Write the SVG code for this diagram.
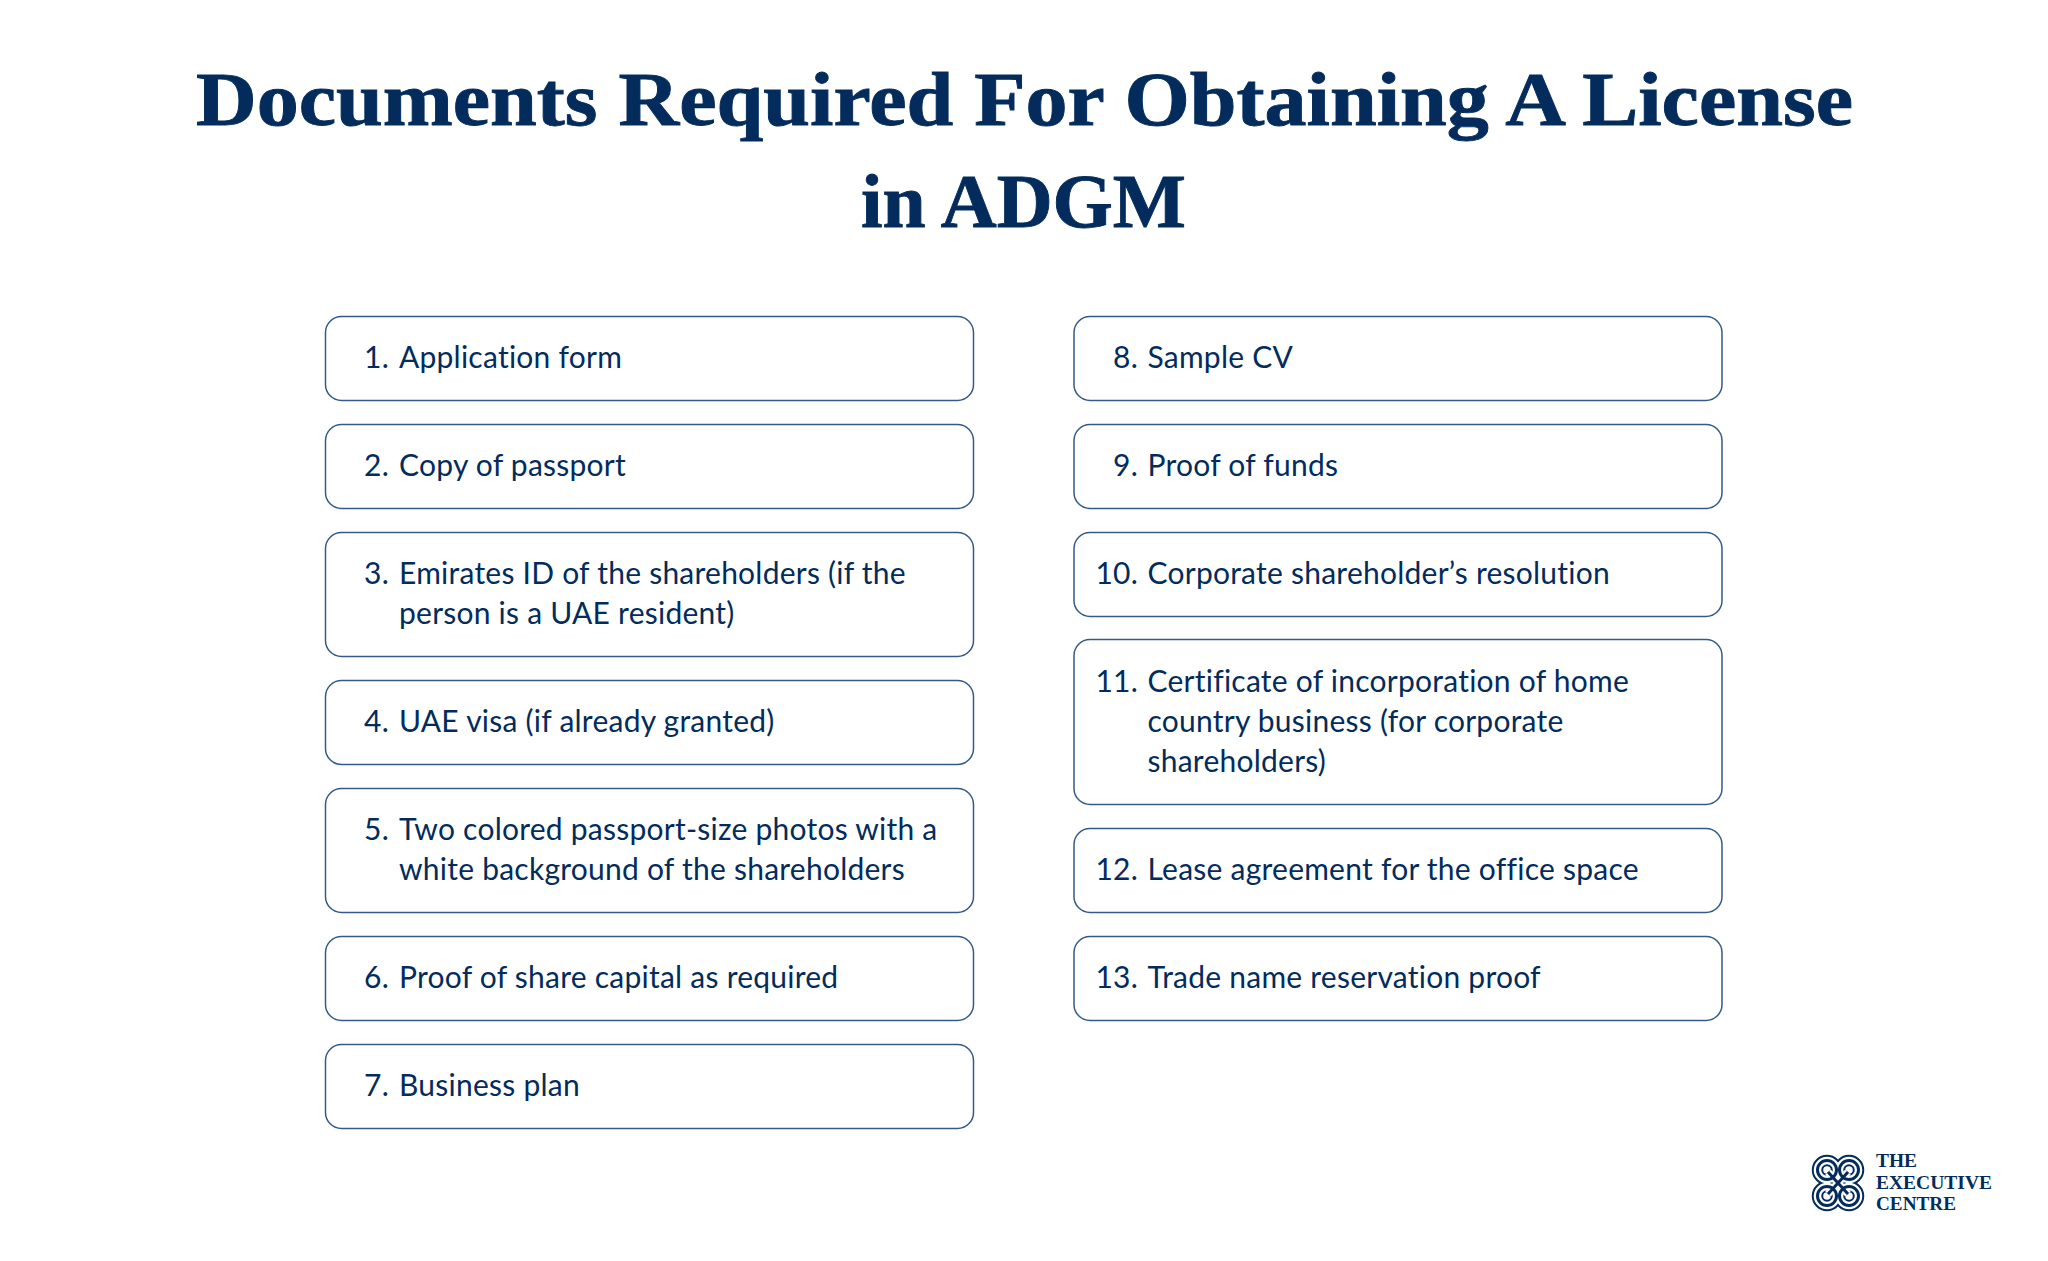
<svg xmlns="http://www.w3.org/2000/svg" width="2048" height="1261" viewBox="0 0 2048 1261">
<style>
.b{fill:#fff;stroke:#35598a;stroke-width:1.5}
.t{font-family:"Lato","Noto Sans",sans-serif;font-size:30px;fill:#032c5c;letter-spacing:.24px}
.n{text-anchor:end}
.h{font-family:"Liberation Serif",serif;font-weight:700;font-size:76px;fill:#032c5c;stroke:#032c5c;stroke-width:.9px}
.l{font-family:"Liberation Serif",serif;font-weight:700;font-size:19px;fill:#032c5c}
</style>
<rect width="2048" height="1261" fill="#fff"/>
<g id="title"><text class="h" x="196" y="125" textLength="1657" lengthAdjust="spacingAndGlyphs">Documents Required For Obtaining A License</text>
<text class="h" x="861" y="227" textLength="325" lengthAdjust="spacingAndGlyphs">in ADGM</text></g>
<g id="n1"><rect class="b" x="325.500" y="316.500" width="648" height="84" rx="16"/><text class="t n" x="389" y="368">1.</text><text class="t" x="399" y="368">Application form</text></g>
<g id="n2"><rect class="b" x="325.500" y="424.500" width="648" height="84" rx="16"/><text class="t n" x="389" y="476">2.</text><text class="t" x="399" y="476">Copy of passport</text></g>
<g id="n3"><rect class="b" x="325.500" y="532.500" width="648" height="124" rx="16"/><text class="t n" x="389" y="584">3.</text><text class="t" x="399" y="584">Emirates ID of the shareholders (if the</text><text class="t" x="399" y="624">person is a UAE resident)</text></g>
<g id="n4"><rect class="b" x="325.500" y="680.500" width="648" height="84" rx="16"/><text class="t n" x="389" y="732">4.</text><text class="t" x="399" y="732">UAE visa (if already granted)</text></g>
<g id="n5"><rect class="b" x="325.500" y="788.500" width="648" height="124" rx="16"/><text class="t n" x="389" y="840">5.</text><text class="t" x="399" y="840">Two colored passport-size photos with a</text><text class="t" x="399" y="880">white background of the shareholders</text></g>
<g id="n6"><rect class="b" x="325.500" y="936.500" width="648" height="84" rx="16"/><text class="t n" x="389" y="988">6.</text><text class="t" x="399" y="988">Proof of share capital as required</text></g>
<g id="n7"><rect class="b" x="325.500" y="1044.500" width="648" height="84" rx="16"/><text class="t n" x="389" y="1096">7.</text><text class="t" x="399" y="1096">Business plan</text></g>
<g id="n8"><rect class="b" x="1074" y="316.500" width="648" height="84" rx="16"/><text class="t n" x="1138" y="368">8.</text><text class="t" x="1147.500" y="368">Sample CV</text></g>
<g id="n9"><rect class="b" x="1074" y="424.500" width="648" height="84" rx="16"/><text class="t n" x="1138" y="476">9.</text><text class="t" x="1147.500" y="476">Proof of funds</text></g>
<g id="n10"><rect class="b" x="1074" y="532.500" width="648" height="84" rx="16"/><text class="t n" x="1138" y="584">10.</text><text class="t" x="1147.500" y="584">Corporate shareholder’s resolution</text></g>
<g id="n11"><rect class="b" x="1074" y="639.500" width="648" height="165" rx="16"/><text class="t n" x="1138" y="692">11.</text><text class="t" x="1147.500" y="692">Certificate of incorporation of home</text><text class="t" x="1147.500" y="732">country business (for corporate</text><text class="t" x="1147.500" y="772">shareholders)</text></g>
<g id="n12"><rect class="b" x="1074" y="828.500" width="648" height="84" rx="16"/><text class="t n" x="1138" y="880">12.</text><text class="t" x="1147.500" y="880">Lease agreement for the office space</text></g>
<g id="n13"><rect class="b" x="1074" y="936.500" width="648" height="84" rx="16"/><text class="t n" x="1138" y="988">13.</text><text class="t" x="1147.500" y="988">Trade name reservation proof</text></g>
<g id="logo"><defs><g id="k" fill="none"><circle cx="1827" cy="1170" r="9.500"/><circle cx="1849" cy="1170" r="9.500"/><circle cx="1827" cy="1196" r="9.500"/><circle cx="1849" cy="1196" r="9.500"/><path d="M1848,1172L1828,1194"/><path d="M1828,1172L1848,1194"/></g></defs>
<use href="#k" stroke="#032c5c" stroke-width="11.500"/><use href="#k" stroke="#fff" stroke-width="7.500"/><use href="#k" stroke="#032c5c" stroke-width="3"/>
<text class="l" x="1876" y="1167" textLength="41" lengthAdjust="spacingAndGlyphs">THE</text><text class="l" x="1876" y="1189" textLength="116" lengthAdjust="spacingAndGlyphs">EXECUTIVE</text><text class="l" x="1876" y="1210" textLength="80" lengthAdjust="spacingAndGlyphs">CENTRE</text></g>
</svg>
